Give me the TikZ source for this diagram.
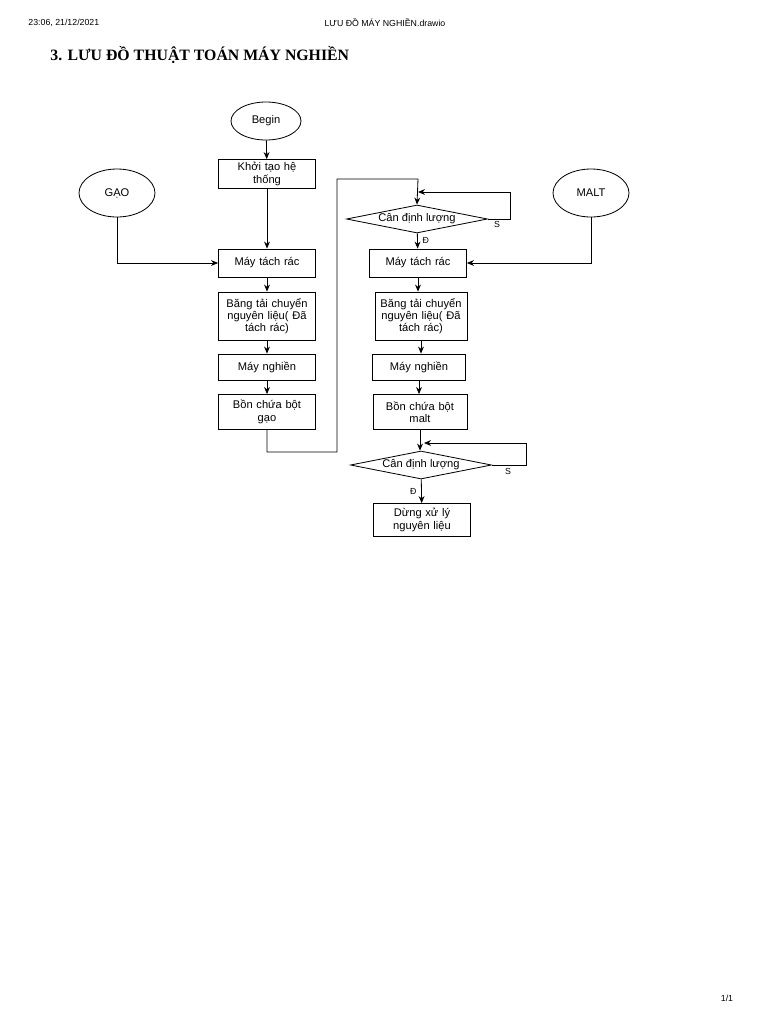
\documentclass[tikz,border=0pt]{standalone}
\usepackage{fontspec}
\setmainfont{Liberation Sans}
\newfontfamily\titlefont{Liberation Serif}[UprightFont={* Bold}]
\usetikzlibrary{arrows.meta,shapes.geometric}

\begin{document}
\begin{tikzpicture}[x=0.03cm, y=-0.03cm, >={Stealth[length=6pt,width=5pt]}, line width=0.7pt,
  every node/.style={font=\fontsize{9.5}{10.5}\selectfont, align=center, inner sep=0pt},
  box/.style={draw, minimum width=97*0.03cm, text width=90*0.03cm},
  oval/.style={draw, ellipse, minimum width=76*0.03cm, minimum height=48*0.03cm},
  check/.style={draw, diamond, aspect=5, minimum width=141*0.03cm, minimum height=28*0.03cm},
  small/.style={font=\fontsize{7.5}{8.5}\selectfont}]

% page frame
\useasboundingbox (0,0) rectangle (768,1024);
\node[small, anchor=west] (date) at (28,23) {23:06, 21/12/2021};
\node[small] (file) at (385,23) {LƯU ĐỒ MÁY NGHIỀN.drawio};
\node[anchor=west, font=\titlefont\fontsize{13.5}{14}\selectfont] (title) at (50,55) {3. LƯU ĐỒ THUẬT TOÁN MÁY NGHIỀN};
\node[small] (page) at (727,998) {1/1};

% left column
\node[oval, minimum width=70*0.03cm, minimum height=38*0.03cm] (begin) at (266,121) {Begin};
\node[box, minimum height=29*0.03cm] (init) at (267,174) {Khởi tạo hệ\\thống};
\node[oval] (gao) at (117,193) {GẠO};
\node[box, minimum height=28*0.03cm] (sepL) at (267,263) {Máy tách rác};
\node[box, minimum height=48*0.03cm] (beltL) at (267,316) {Băng tải chuyển\\nguyên liệu( Đã\\tách rác)};
\node[box, minimum height=26*0.03cm] (millL) at (267,367) {Máy nghiền};
\node[box, minimum height=35*0.03cm] (tankL) at (267,412) {Bồn chứa bột\\gạo};

% right column
\node[check] (weigh1) at (417,219) {Cân định lượng};
\node[box, minimum height=28*0.03cm] (sepR) at (418,263) {Máy tách rác};
\node[oval] (malt) at (591,193) {MALT};
\node[box, minimum width=92*0.03cm, minimum height=48*0.03cm] (beltR) at (421,316) {Băng tải chuyển\\nguyên liệu( Đã\\tách rác)};
\node[box, minimum width=93*0.03cm, minimum height=26*0.03cm] (millR) at (419,367) {Máy nghiền};
\node[box, minimum width=94*0.03cm, minimum height=35*0.03cm] (tankR) at (420,412) {Bồn chứa bột\\malt};
\node[check] (weigh2) at (421,465) {Cân định lượng};
\node[box, minimum height=33*0.03cm] (stop) at (422,520) {Dừng xử lý\\nguyên liệu};

% connectors
\draw[->] (begin) -- (init);
\draw[->] (init) -- (sepL);
\draw[->] (gao.south) |- (sepL.west);
\draw[->] (sepL) -- (beltL);
\draw[->] (beltL) -- (millL);
\draw[->] (millL) -- (tankL);
\coordinate (top1) at (418,192);
\coordinate (top2) at (424,443);
\draw[->] (tankL.south) -- (267,452) -- (337,452) -- (337,179) -- (418,179) -- (weigh1.north);
\draw[->] (weigh1.east) -- (510,219) -- (510,192) -- (top1);
\node[small] (s1) at (497,224) {S};
\draw[->] (weigh1) -- node[small, right=4pt] {Đ} (sepR);
\draw[->] (malt.south) |- (sepR.east);
\draw[->] (sepR.south) -- (sepR.south |- beltR.north);
\draw[->] (beltR.south) -- (beltR.south |- millR.north);
\draw[->] (millR.south) -- (millR.south |- tankR.north);
\draw[->] (tankR.south) -- (tankR.south |- weigh2.north);
\draw[->] (weigh2.east) -- (526,465) -- (526,443) -- (top2);
\node[small] (s2) at (508,471) {S};
\draw[->] (weigh2) -- node[small, left=4pt] {Đ} (stop);
\end{tikzpicture}
\end{document}
